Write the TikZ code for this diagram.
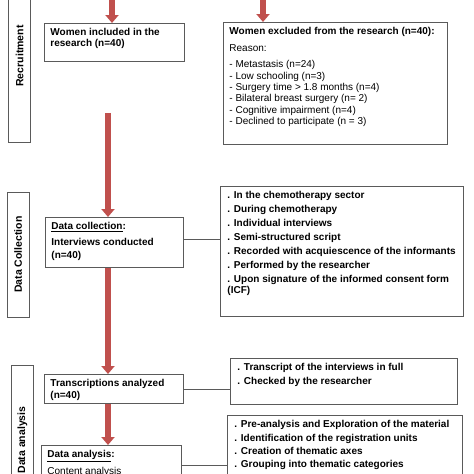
\documentclass[tikz,border=0pt]{standalone}
\usepackage{fontspec}
\setmainfont{Liberation Sans}
\usetikzlibrary{arrows.meta}

\definecolor{flowred}{RGB}{192,80,77}
\definecolor{boxgray}{RGB}{90,90,90}

\begin{document}
\begin{tikzpicture}[x=1pt, y=-1pt,
    every node/.style={font=\fontsize{10}{11.3}\selectfont},
    box/.style={draw=boxgray, line width=0.9pt, fill=white, anchor=north west,
        inner xsep=6pt, inner ysep=5pt},
    side/.style={draw=boxgray, line width=0.9pt, rotate=90, inner sep=0pt,
        minimum height=22pt, font=\fontsize{10.5}{11}\selectfont\bfseries},
    bigarrow/.style={flowred, line width=6pt, -{Triangle[width=13pt, length=8pt]}},
    link/.style={boxgray, line width=0.9pt}]
    \useasboundingbox (0,0) rectangle (474,474);
    \clip (0,0) rectangle (474,474);

    % Recruitment
    \node[side, minimum width=172pt] (recr) at (19.5,56) {Recruitment};
    \node[box] (incl) at (44,23) {\parbox[t][28pt][t]{128pt}{\bfseries
        Women included in the\\research (n=40)}};
    \node[box] (excl) at (223,22) {\parbox[t][112pt][t]{212pt}{%
        \textbf{Women excluded from the research (n=40):}\\[5.7pt]
        Reason:\\[5pt]
        - Metastasis (n=24)\\
        - Low schooling (n=3)\\
        - Surgery time > 1.8 months (n=4)\\
        - Bilateral breast surgery (n= 2)\\
        - Cognitive impairment (n=4)\\
        - Declined to participate (n = 3)}};
    \coordinate (top1) at (112,-5);
    \coordinate (top2) at (263,-5);
    \draw[bigarrow] (top1) -- (top1 |- incl.north);
    \draw[bigarrow] (top2) -- (top2 |- excl.north);

    % Data collection
    \node[side, minimum width=125pt] (dcol) at (18,254.5) {Data Collection};
    \node[box] (coll) at (45,217) {\parbox[t][40pt][t]{126pt}{\bfseries
        \underline{Data collection}:\\[4.8pt]
        Interviews conducted\\[1.5pt](n=40)}};
    \node[box, inner xsep=7pt] (det1) at (220,186) {\parbox[t][120pt][t]{229pt}{\bfseries
        . In the chemotherapy sector\\[2.6pt]
        . During chemotherapy\\[2.6pt]
        . Individual interviews\\[2.6pt]
        . Semi-structured script\\[2.6pt]
        . Recorded with acquiescence of the informants\\[2.6pt]
        . Performed by the researcher\\[2.6pt]
        . Upon signature of the informed consent form\\(ICF)}};
    \coordinate (axis) at (108,0);
    \draw[bigarrow, shorten <=51pt] (axis |- incl.south) -- (axis |- coll.north);
    \draw[link] ([yshift=3pt]coll.east) -- ([yshift=3pt]coll.east -| det1.west);

    % Data analysis
    \node[side, minimum width=150pt] (dana) at (22.5,440) {Data analysis};
    \node[box] (trans) at (44,374) {\parbox[t][19pt][t]{127pt}{\bfseries
        Transcriptions analyzed\\(n=40)}};
    \node[box, inner xsep=7pt] (det2) at (230,358) {\parbox[t][36pt][t]{213pt}{\bfseries
        . Transcript of the interviews in full\\[2pt]
        . Checked by the researcher}};
    \node[box] (anal) at (41,445) {\parbox[t][50pt][t]{128pt}{%
        \textbf{\underline{Data analysis}:}\\[4.5pt]
        Content analysis}};
    \node[box, inner xsep=7pt] (det3) at (227,415) {\parbox[t][80pt][t]{221pt}{\bfseries
        . Pre-analysis and Exploration of the material\\[2pt]
        . Identification of the registration units\\[2pt]
        . Creation of thematic axes\\[2pt]
        . Grouping into thematic categories}};
    \draw[bigarrow] (axis |- coll.south) -- (axis |- trans.north);
    \draw[bigarrow] (axis |- trans.south) -- (axis |- anal.north);
    \draw[link] (trans.east) -- (trans.east -| det2.west);
    \draw[link] ([yshift=-20pt]anal.north east) -- ([yshift=-20pt]anal.north east -| det3.west);
\end{tikzpicture}
\end{document}
